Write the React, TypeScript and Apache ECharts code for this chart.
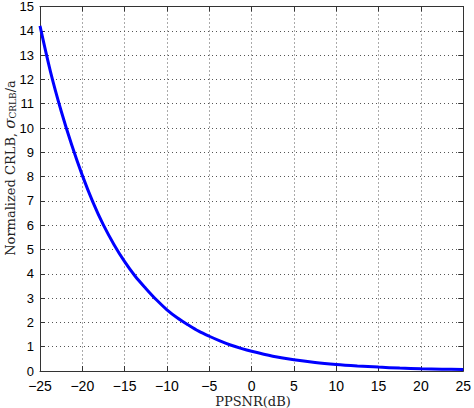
import React, { useEffect, useRef } from "react";
import * as echarts from "echarts";

const snrDb = [-25, -23.75, -22.5, -21.25, -20, -18.75, -17.5, -16.25, -15, -13.75, -12.5, -11.25, -10, -8.75, -7.5, -6.25, -5, -3.75, -2.5, -1.25, 0, 2.5, 5, 7.5, 10, 12.5, 15, 17.5, 20, 22.5, 25];
const crlb = [14.2, 12.3, 10.7, 9.3, 8.05, 6.95, 6.0, 5.2, 4.5, 3.9, 3.4, 2.93, 2.52, 2.18, 1.9, 1.64, 1.43, 1.24, 1.07, 0.93, 0.81, 0.61, 0.46, 0.35, 0.27, 0.21, 0.16, 0.12, 0.095, 0.075, 0.06];
const xTitle = "PPSNR(dB)";
const yTitleMain = "Normalized CRLB, ";
const yTitleSym = "σ";
const yTitleSub = "CRLB";
const yTitleTail = "/a";

const minus = (v: number) => String(v).replace("-", "\u2212");

export default function App() {
  const ref = useRef<HTMLDivElement>(null);
  useEffect(() => {
    if (!ref.current) return;
    const chart = echarts.init(ref.current, null, { renderer: "svg" });
    const axisColor = "#333";
    const tickFont = { fontFamily: "Liberation Sans", fontSize: 14, color: "#000" };
    const split = { show: true, lineStyle: { type: [1, 3] as any, color: "#555", width: 1 } };
    const line = { show: true, onZero: false, lineStyle: { color: axisColor, width: 1 } };
    const tick = { show: true, inside: true, length: 5, lineStyle: { color: axisColor } };
    chart.setOption({
      animation: false,
      backgroundColor: "#fff",
      grid: { left: 40, right: 8, top: 5, bottom: 37, containLabel: false },
      xAxis: [
        {
          type: "value", min: -25, max: 25, interval: 5, position: "bottom",
          axisLine: line, axisTick: tick,
          axisLabel: { ...tickFont, margin: 8, formatter: (v: number) => minus(v) },
          splitLine: split,
        },
        {
          type: "value", min: -25, max: 25, interval: 5, position: "top",
          axisLine: line, axisTick: tick,
          axisLabel: { show: false },
          splitLine: { show: false },
        },
      ],
      yAxis: [
        {
          type: "value", min: 0, max: 15, interval: 1, position: "left",
          axisLine: line, axisTick: tick,
          axisLabel: { ...tickFont, fontSize: 13, margin: 6 },
          splitLine: split,
        },
        {
          type: "value", min: 0, max: 15, interval: 1, position: "right",
          axisLine: line, axisTick: tick,
          axisLabel: { show: false },
          splitLine: { show: false },
        },
      ],
      series: [
        {
          type: "line",
          data: snrDb.map((x, i) => [x, crlb[i]]),
          smooth: 0.3,
          showSymbol: false,
          lineStyle: { color: "#0000ff", width: 3 },
          z: 5,
        },
      ],
      graphic: [
        {
          type: "text",
          x: 253, y: 401,
          style: {
            text: xTitle,
            font: '13px "DejaVu Serif"',
            fill: "#222",
            align: "center",
            verticalAlign: "middle",
          },
        },
        {
          type: "text",
          x: 10, y: 168,
          rotation: Math.PI / 2,
          style: {
            text: `{m|${yTitleMain}}{s|${yTitleSym}}{b|${yTitleSub}}{m|${yTitleTail}}`,
            align: "center",
            verticalAlign: "middle",
            fill: "#222",
            rich: {
              m: { font: '13px "DejaVu Serif"', fill: "#222" },
              s: { font: 'italic 15px "DejaVu Serif"', fill: "#222" },
              b: { font: '9px "DejaVu Serif"', fill: "#222", padding: [6, 0, 0, 0] },
            },
          },
        },
      ],
    });
    return () => chart.dispose();
  }, []);
  return <div ref={ref} style={{ position: "absolute", left: 0, top: 0, width: 474, height: 408 }} />;
}
